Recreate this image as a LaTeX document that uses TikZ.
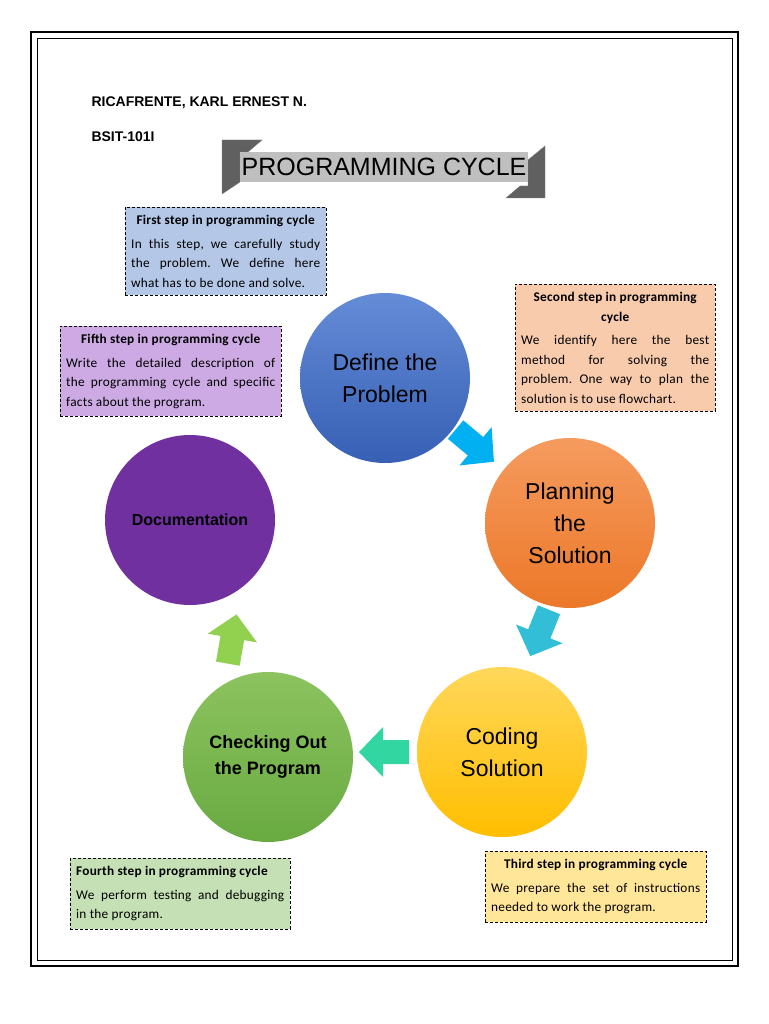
\documentclass[tikz,border=0pt]{standalone}
\usepackage{fontspec}
\setmainfont{Liberation Sans}
\newfontfamily\calfont[LetterSpace=2]{Carlito}
\definecolor{aone}{RGB}{0,176,240}
\definecolor{atwo}{RGB}{50,190,215}
\definecolor{athree}{RGB}{50,214,160}
\definecolor{afour}{RGB}{146,208,80}
\newcommand\blockarrow[3]{\fill[fill=#3,shift={#1},rotate=#2] (-24,-12)--(2,-12)--(2,-25)--(26,0)--(2,25)--(2,12)--(-24,12)--cycle;}
\newcommand\nohyph{\hyphenpenalty=10000\relax\tolerance=9999\relax\hbadness=10000\relax\frenchspacing}
\begin{document}
\begin{tikzpicture}[x=1pt,y=-1pt,
 circ/.style={circle,minimum size=170pt,inner sep=0pt,align=center,font=\fontsize{23}{32}\selectfont},
 tbox/.style={draw,densely dashed,anchor=north west,inner xsep=6pt,inner ysep=8pt,align=justify,font=\calfont\fontsize{13.3}{19.5}\selectfont\nohyph}]
\useasboundingbox (0,0) rectangle (768,1024);
\fill[white] (0,0) rectangle (768,1024);
\draw[line width=2pt] (31,32) rectangle (738,966);
\draw[line width=0.8pt] (37,38) rectangle (732,960);
\node[anchor=west,font=\bfseries\fontsize{14}{15}\selectfont] (name) at (88,103) {RICAFRENTE, KARL ERNEST N.};
\node[anchor=west,font=\bfseries\fontsize{14}{15}\selectfont] (cls) at (88,137) {BSIT-101I};
% title
\fill[gray!75!black,draw=gray] (222,140) -- (262,140) -- (248,152) -- (240,152) -- (240,182) -- (222,194) -- cycle;
\fill[gray!75!black,draw=gray] (545,146) -- (545,198) -- (506,198) -- (520,186) -- (528,186) -- (528,160) -- cycle;
\node[fill=gray!50,minimum width=288pt,minimum height=30pt,inner sep=0pt,font=\fontsize{25}{26}\selectfont] (title) at (384,167) {PROGRAMMING CYCLE};
% circles
\node[circ,top color={rgb,255:red,100;green,140;blue,215},bottom color={rgb,255:red,55;green,95;blue,180}] (c1) at (385,378) {Define the\\Problem};
\node[circ,top color={rgb,255:red,245;green,155;blue,95},bottom color={rgb,255:red,236;green,120;blue,40}] (c2) at (570,523) {Planning\\the\\Solution};
\node[circ,top color={rgb,255:red,255;green,215;blue,90},bottom color={rgb,255:red,255;green,190;blue,0}] (c3) at (502,752) {Coding\\Solution};
\node[circ,font=\bfseries\fontsize{18}{26}\selectfont,top color={rgb,255:red,140;green,195;blue,95},bottom color={rgb,255:red,105;green,170;blue,65}] (c4) at (268,757) {Checking Out\\the Program};
\node[circ,font=\bfseries\fontsize{16}{20}\selectfont,fill={rgb,255:red,112;green,48;blue,160}] (c5) at (190,520) {Documentation};
% block arrows
\blockarrow{(474,445)}{-40}{aone}
\blockarrow{(540,632)}{-112}{atwo}
\blockarrow{(385,752)}{180}{athree}
\blockarrow{(232,640)}{80}{afour}
% text boxes
\node[tbox,text width=189pt,fill={rgb,255:red,180;green,199;blue,231}] (b1) at (125,207) {{\centering\bfseries First step in programming cycle\par}\vspace{4pt}In this step, we carefully study\linebreak the problem. We define here\linebreak what has to be done and solve.};
\node[tbox,text width=188pt,fill={rgb,255:red,248;green,203;blue,173}] (b2) at (515,284) {{\centering\bfseries Second step in programming\\ cycle\par}\vspace{4pt}We identify here the best\linebreak method for solving the\linebreak problem. One way to plan the\linebreak solution is to use flowchart.};
\node[tbox,text width=209pt,fill={rgb,255:red,205;green,170;blue,228}] (b3) at (60,326) {{\centering\bfseries Fifth step in programming cycle\par}\vspace{4pt}Write the detailed description of\linebreak the programming cycle and specific\linebreak facts about the program.};
\node[tbox,text width=208pt,fill={rgb,255:red,197;green,224;blue,180}] (b4) at (70,858) {{\bfseries Fourth step in programming cycle\par}\vspace{4pt}We perform testing and debugging\linebreak in the program.\par\vspace{4pt}};
\node[tbox,text width=209pt,fill={rgb,255:red,255;green,230;blue,153}] (b5) at (485,851) {{\centering\bfseries Third step in programming cycle\par}\vspace{4pt}We prepare the set of instructions\linebreak needed to work the program.\par\vspace{4pt}};
\end{tikzpicture}
\end{document}
